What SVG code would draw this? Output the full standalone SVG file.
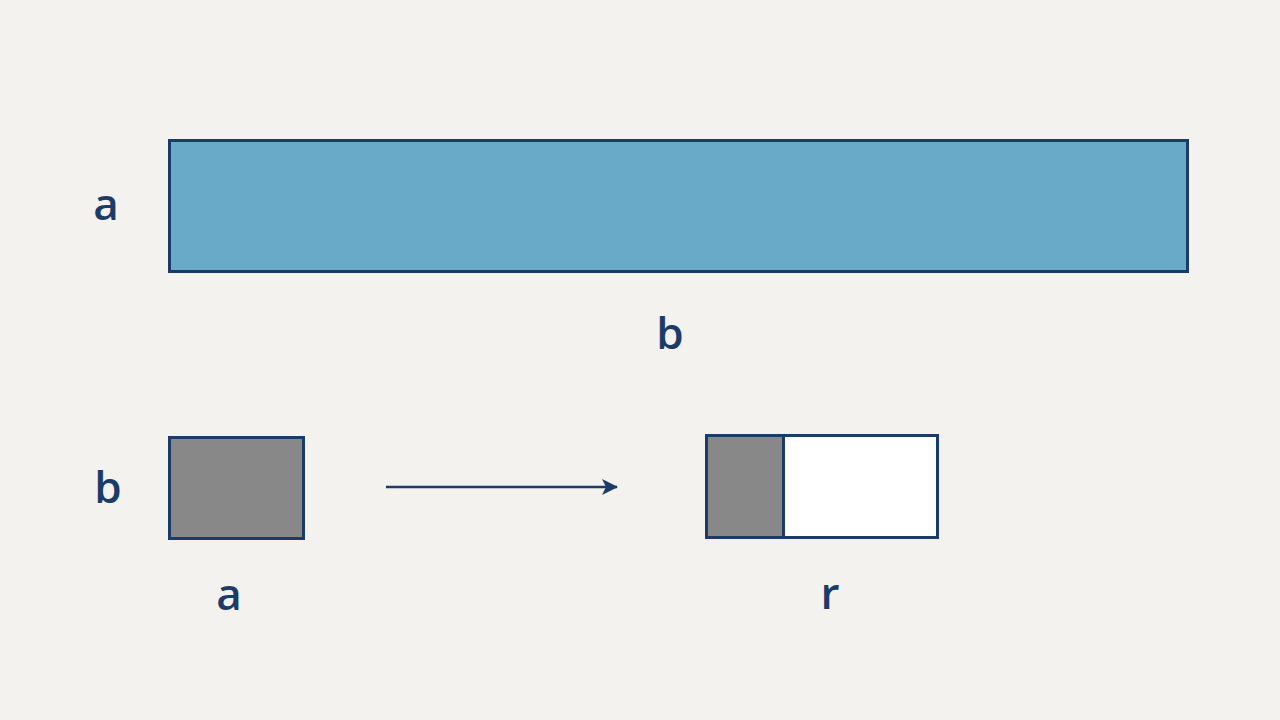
<svg xmlns="http://www.w3.org/2000/svg" width="1280" height="720" viewBox="0 0 1280 720">
<defs>
<marker id="ah" viewBox="0 0 16 16" refX="15" refY="8" markerWidth="16" markerHeight="16" markerUnits="userSpaceOnUse" orient="auto">
<path d="M0,0 L16,8 L0,16 L4,8 Z" fill="#1b3b68"/>
</marker>
<style>
.lbl{font-family:"Open Sans","Liberation Sans",sans-serif;font-size:44px;font-weight:600;fill:#1b3b68;text-anchor:middle}
.box{stroke:#1b3b68;stroke-width:3}
</style>
</defs>
<rect width="1280" height="720" fill="#f3f2ee"/>
<g id="bar">
<rect class="box" x="169.5" y="140.5" width="1018" height="131" fill="#6aaac9"/>
</g>
<text class="lbl" x="106" y="220">a</text>
<text class="lbl" x="670" y="349">b</text>
<g id="small">
<rect class="box" x="169.5" y="437.5" width="134" height="101" fill="#888888"/>
</g>
<text class="lbl" x="108" y="503">b</text>
<text class="lbl" x="229" y="610">a</text>
<g id="result">
<rect class="box" x="706.5" y="435.5" width="231" height="102" fill="#ffffff"/>
<rect x="708" y="437" width="75" height="99" fill="#888888"/>
<line class="box" x1="783.5" y1="435.5" x2="783.5" y2="537.5"/>
</g>
<text class="lbl" x="830" y="609">r</text>
<g id="connectors">
<line x1="386" y1="487" x2="617" y2="487" stroke="#1b3b68" stroke-width="2.5" marker-end="url(#ah)"/>
</g>
</svg>
